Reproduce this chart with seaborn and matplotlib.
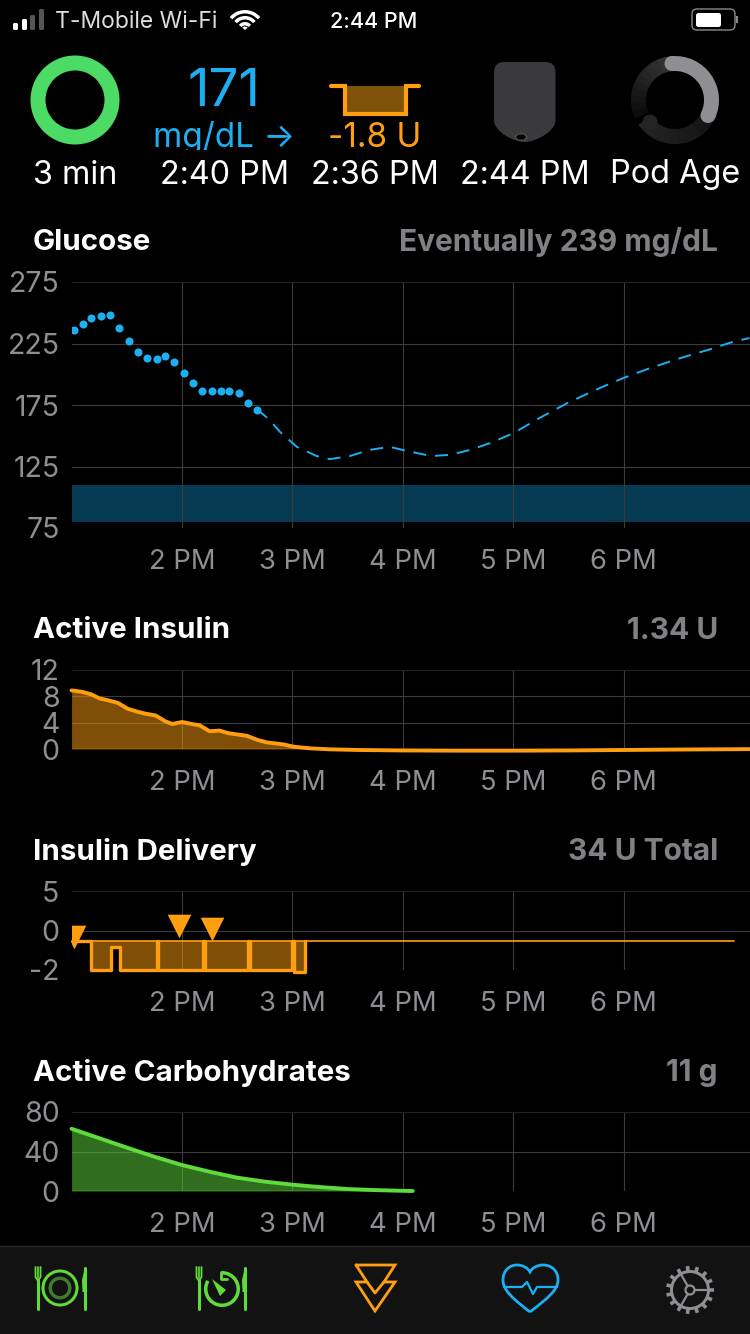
import numpy as np
import pandas as pd
import matplotlib
matplotlib.use('Agg')
import matplotlib.pyplot as plt
from matplotlib.patches import Circle, Wedge, Rectangle, FancyBboxPatch, PathPatch, Polygon
from matplotlib.path import Path
import seaborn as sns

# glucose readings (hour of day, mg/dL)
glucose_hours = [13.02, 13.10, 13.18, 13.27, 13.35, 13.43, 13.52, 13.60, 13.68, 13.77, 13.85,
                 13.93, 14.02, 14.10, 14.18, 14.27, 14.35, 14.43, 14.52, 14.60, 14.68]
glucose_values = [236, 241, 246, 247, 248, 238, 227, 218, 213, 212, 215,
                  210, 201, 193, 186, 186, 186, 186, 185, 177, 171]
forecast_hours = [14.68, 14.78, 14.89, 15.04, 15.22, 15.34, 15.52, 15.70, 15.88, 16.07, 16.26, 16.43,
                  16.61, 16.79, 17.00, 17.24, 17.51, 17.79, 18.00, 18.24, 18.51, 18.79, 18.96, 19.14]
forecast_values = [171.5, 164, 153, 141, 133.5, 131, 133.5, 138.5, 141, 137, 133.5, 134.5,
                   138.5, 144, 152, 164.5, 177.5, 189, 197, 205, 213, 220.5, 225.5, 229.5]
target_low = 80
target_high = 110

iob_hours = [13.0, 13.09, 13.18, 13.25, 13.33, 13.42, 13.51, 13.59, 13.66, 13.76, 13.85, 13.91, 14.0,
             14.09, 14.16, 14.25, 14.34, 14.42, 14.59, 14.68, 14.77, 14.92, 15.01, 15.16, 15.34,
             15.6, 16.0, 16.5, 17.0, 17.5, 18.0, 18.5, 19.14]
iob_values = [8.9, 8.7, 8.3, 7.7, 7.4, 7.0, 6.1, 5.7, 5.4, 5.1, 4.2, 3.8, 4.1,
              3.8, 3.6, 2.7, 2.8, 2.4, 2.0, 1.4, 1.0, 0.7, 0.35, 0.1, -0.05,
              -0.15, -0.22, -0.25, -0.25, -0.22, -0.15, -0.08, -0.02]

# delivery is in axis units: the reference ticks are evenly spaced but labelled 5, 0, -2
basal_level = -1.33
delivery_hours = [13.0, 13.18, 13.36, 13.44, 13.77, 13.785, 14.19, 14.205, 14.60, 14.615, 15.0, 15.015, 15.11, 19.0]
delivery_values = [-1.33, -5, -2.05, -5, -1.33, -5, -1.33, -5, -1.33, -5, -1.33, -5.3, -1.33, -1.33]
bolus_hours = [13.02, 13.97, 14.27]
bolus_values = [-0.82, 0.63, 0.19]

carb_hours = [13.0, 13.25, 13.5, 13.75, 14.0, 14.25, 14.5, 14.75, 15.0, 15.25, 15.5, 15.75, 16.0, 16.09]
carb_values = [63, 53.5, 44, 34.7, 26.3, 19.5, 13.5, 9.5, 6.4, 4, 2, 0.9, 0.2, 0]

hour_ticks = [14, 15, 16, 17, 18]
hour_labels = ['2 PM', '3 PM', '4 PM', '5 PM', '6 PM']

BLUE = '#1cb0f2'
ORANGE = '#ff9f0f'
BROWN = '#7f5209'
GREEN = '#5fdc3c'
GRAY = '#8e8e93'
TITLEGRAY = '#808085'
GRID = '#3c3c3e'
EDGEGRID = '#232325'

sns.set_theme(style='dark', rc={'figure.facecolor': 'black', 'axes.facecolor': 'black',
                                'savefig.facecolor': 'black', 'axes.grid': True})
plt.rcParams['font.family'] = ['Inter', 'DejaVu Sans']

W, H = 750, 1334
fig = plt.figure(figsize=(7.5, 13.34), dpi=100)


def chart_axes(top, bottom, ylim, yticks, ylabels):
    ax = fig.add_axes([72 / W, 1 - bottom / H, (W - 72) / W, (bottom - top) / H])
    ax.set_xlim(13.004, 19.145)
    ax.set_ylim(*ylim)
    ax.set_xticks(hour_ticks, hour_labels)
    ax.set_yticks(yticks, ylabels)
    ax.grid(True, color=GRID, lw=0.8)
    ax.get_ygridlines()[0].set_color(EDGEGRID)
    ax.get_ygridlines()[-1].set_color(EDGEGRID)
    ax.tick_params(axis='x', colors=GRAY, labelsize=19.7, pad=15, length=0)
    ax.tick_params(axis='y', colors=GRAY, labelsize=20.5, pad=9, length=0)
    for s in ax.spines.values():
        s.set_visible(False)
    ax.set_axisbelow(True)
    return ax


# glucose
ax1 = chart_axes(282, 528, (75, 275), [75, 125, 175, 225, 275], ['75', '125', '175', '225', '275'])
ax1.axhspan(target_low, target_high, color='#063a52', lw=0, zorder=0.4)
sns.lineplot(x=forecast_hours, y=forecast_values, ax=ax1, color=BLUE, lw=1.4, linestyle=(0, (6.7, 4.6)))
sns.scatterplot(x=glucose_hours, y=glucose_values, ax=ax1, color=BLUE, s=34, linewidth=0, zorder=3)

# active insulin
ax2 = chart_axes(670, 749, (0, 12), [0, 4, 8, 12], ['0', '4', '8', '12'])
iob = pd.DataFrame({'hour': iob_hours, 'units': iob_values})
ax2.fill_between(iob['hour'], iob['units'], 0, color=ORANGE, alpha=0.5, lw=0, zorder=1.5)
sns.lineplot(x=[13.0, 15.0], y=[0, 0], ax=ax2, color=ORANGE, lw=1)
line = sns.lineplot(data=iob, x='hour', y='units', ax=ax2, color=ORANGE, lw=2.8, estimator=None)
line.lines[-1].set_clip_on(False)
ax2.set_xlabel('')
ax2.set_ylabel('')

# insulin delivery
ax3 = chart_axes(891, 970, (-5, 5), [-5, 0, 5], ['-2', '0', '5'])
ax3.fill_between(delivery_hours, delivery_values, basal_level, step='post', color=ORANGE, alpha=0.5, lw=0, zorder=1.5)
sns.lineplot(x=[13.0, 19.0], y=[basal_level, basal_level], ax=ax3, color=ORANGE, lw=1.2)
path = sns.lineplot(x=delivery_hours[:-1], y=delivery_values[:-1], ax=ax3, color=ORANGE, lw=2.4,
                    drawstyle='steps-post', estimator=None, sort=False)
path.lines[-1].set_clip_on(False)
sns.scatterplot(x=bolus_hours, y=bolus_values, ax=ax3, color=ORANGE, marker='v', s=290, linewidth=0, zorder=4)

# active carbs
ax4 = chart_axes(1112, 1191, (0, 80), [0, 40, 80], ['0', '40', '80'])
ax4.fill_between(carb_hours, carb_values, 0, color=GREEN, alpha=0.5, lw=0, zorder=1.5)
sns.lineplot(x=[13.0, 16.09], y=[0, 0], ax=ax4, color=GREEN, lw=1)
line = sns.lineplot(x=carb_hours, y=carb_values, ax=ax4, color=GREEN, lw=2.8)
line.lines[-1].set_clip_on(False)

# overlay in pixel coords for the app chrome
ov = fig.add_axes([0, 0, 1, 1], facecolor='none')
ov.set_xlim(0, W)
ov.set_ylim(H, 0)
ov.axis('off')
ov.grid(False)


def label(x, y, s, color='white', size=23.3, ha='center', weight='normal'):
    return ov.text(x, y + 2, s, color=color, fontsize=size, ha=ha, va='center', fontweight=weight)


for title, right, y in [('Glucose', 'Eventually 239 mg/dL', 240), ('Active Insulin', '1.34 U', 629),
                        ('Insulin Delivery', '34 U Total', 850), ('Active Carbohydrates', '11 g', 1071)]:
    label(33, y, title, size=21.3, ha='left', weight='bold')
    label(718, y, right, color=TITLEGRAY, size=21.5, ha='right', weight='bold')

# status bar
for x0, top, c in [(13, 23, 'white'), (22, 19, 'white'), (30, 15, '#555555'), (39, 9, '#555555')]:
    ov.add_patch(FancyBboxPatch((x0, top), 5, 30 - top, boxstyle='round,pad=0,rounding_size=1.5', fc=c, ec='none'))
label(55, 20, 'T-Mobile Wi-Fi', color='#dddddd', size=16.5, ha='left')
label(374, 20, '2:44 PM', size=15.5, weight='medium')
for r, lw in [(20, 3.5), (14, 3.5), (8, 3.5)]:
    ov.add_patch(Wedge((245, 30), r, 220, 320, width=lw, fc='white', ec='none'))
ov.add_patch(Wedge((245, 30), 3.5, 220, 320, fc='white', ec='none'))
ov.add_patch(FancyBboxPatch((692, 9), 43, 21, boxstyle='round,pad=0,rounding_size=5', fc='none', ec='#8a8a8a', lw=1))
ov.add_patch(FancyBboxPatch((696, 13), 25, 14, boxstyle='round,pad=0,rounding_size=2.5', fc='white', ec='none'))
ov.add_patch(Rectangle((736, 16), 2, 7, fc='#8a8a8a', ec='none'))

# header row
ov.add_patch(Wedge((75, 100), 44.5, 0, 360, width=15, fc='#4cdb64', ec='none'))
label(75, 173, '3 min')
label(224, 90, '171', color=BLUE, size=38)
label(224, 136, 'mg/dL →', color=BLUE, size=24)
ov.add_patch(Rectangle((150, 149.5), 150, 7, fc='black', ec='none', zorder=5))
label(225, 173, '2:40 PM')

ov.add_patch(Rectangle((345, 86), 61, 28, fc=BROWN, ec='none'))
ov.plot([331, 345, 345, 406, 406, 419], [86, 86, 114, 114, 86, 86], color=ORANGE, lw=3, solid_joinstyle='miter')
label(375, 136, '-1.8 U', color=ORANGE, size=24)
label(375, 173, '2:36 PM')

pod = Path([(494, 72), (494, 62), (504, 62), (545, 62), (555.5, 62), (555.5, 72), (555.5, 120), (555.5, 132),
            (535, 142), (525, 142), (514, 142), (494, 132), (494, 120), (494, 72)],
           [Path.MOVETO, Path.CURVE3, Path.CURVE3, Path.LINETO, Path.CURVE3, Path.CURVE3, Path.LINETO, Path.CURVE4,
            Path.CURVE4, Path.CURVE4, Path.CURVE4, Path.CURVE4, Path.CURVE4, Path.LINETO])
ov.add_patch(PathPatch(pod, fc='#3a3a3c', ec='none'))
ov.add_patch(Polygon([(515, 137), (518, 134), (524, 134), (527, 137), (524, 140), (518, 140)], fc='black', ec='#666666', lw=0.6))
label(525, 173, '2:44 PM')

# pod age ring, dark part fades around (y axis is flipped, so angles run clockwise on screen)
for a, c in zip(range(255, 145, -10), np.linspace(0.21, 0.05, 11)):
    ov.add_patch(Wedge((675, 100), 44, a, a + 11, width=15, fc=str(c), ec='none'))
for a, c in zip(range(135, 15, -10), np.linspace(0.14, 0.08, 12)):
    ov.add_patch(Wedge((675, 100), 44, a, a + 11, width=15, fc=str(c), ec='none'))
ov.add_patch(Circle((650, 122), 7.5, fc='0.14', ec='none'))
ov.add_patch(Wedge((675, 100), 44, -95, 25, width=15, fc=GRAY, ec='none'))
ov.add_patch(Circle((672, 63.5), 7.5, fc=GRAY, ec='none'))
ov.add_patch(Circle((708, 115.5), 7.5, fc=GRAY, ec='none'))
label(675, 173, 'Pod Age')

# tab bar
ov.add_patch(Rectangle((0, 1246), W, 88, fc='#121212', ec='none'))
ov.plot([0, W], [1245.5, 1245.5], color='#2a2a2a', lw=1)


def cutlery(xf, xk):
    ov.plot([xf, xf], [1280, 1309], color=GREEN, lw=2.2)
    ov.plot([xf - 2.5, xf - 2.5, xf, xf + 2.5, xf + 2.5], [1267, 1277, 1281, 1277, 1267], color=GREEN, lw=1.3)
    ov.plot([xf, xf], [1267, 1278], color=GREEN, lw=1.2)
    ov.add_patch(Polygon([(xk, 1267), (xk - 3, 1280), (xk - 2.5, 1292), (xk, 1292)], fc=GREEN, ec='none'))
    ov.plot([xk - 0.5, xk - 0.5], [1268, 1309], color=GREEN, lw=2.2)


cutlery(38, 85)
ov.add_patch(Wedge((60, 1288), 18.5, 0, 360, width=3, fc=GREEN, ec='none'))
ov.add_patch(Wedge((60, 1288), 11.5, 0, 360, width=3.5, fc='#3f7a2f', ec='none'))
cutlery(199, 245)
ov.add_patch(Wedge((222, 1289), 18, -90, 210, width=3.5, fc=GREEN, ec='none'))
ov.add_patch(Polygon([(212, 1279), (226, 1290), (220, 1296)], fc=GREEN, ec='none'))
ov.plot([221, 221, 227], [1272, 1279, 1279], color=GREEN, lw=2)

ov.plot([356, 395, 384, 395, 375, 356, 367, 356], [1265, 1265, 1282, 1282, 1311, 1282, 1282, 1265],
        color=ORANGE, lw=2, solid_joinstyle='miter')
ov.plot([367, 375, 384], [1282, 1293, 1282], color=ORANGE, lw=2)

heart = Path([(530, 1312), (512, 1298), (503, 1290), (503, 1280), (503, 1270), (510, 1265), (517, 1265),
              (523, 1265), (528, 1268), (530, 1272), (532, 1268), (537, 1265), (543, 1265),
              (551, 1265), (558, 1270), (558, 1280), (558, 1290), (548, 1298), (530, 1312)],
             [Path.MOVETO] + [Path.CURVE4] * 18)
ov.add_patch(PathPatch(heart, fc='none', ec=BLUE, lw=2))
ov.plot([504, 522, 527, 533, 537, 557], [1287, 1287, 1282, 1294, 1287, 1287], color=BLUE, lw=1.6)

ov.add_patch(Wedge((690, 1290), 20, 0, 360, width=3, fc=GRAY, ec='none'))
ov.add_patch(Circle((690, 1290), 4.5, fc='none', ec=GRAY, lw=1.6))
for a in [120, 0, 240]:
    rad = np.deg2rad(a)
    ov.plot([690 + 4.5 * np.cos(rad), 690 + 19 * np.cos(rad)], [1290 - 4.5 * np.sin(rad), 1290 - 19 * np.sin(rad)],
            color=GRAY, lw=1.6)
for a in range(0, 360, 24):
    rad = np.deg2rad(a)
    ov.plot([690 + 19 * np.cos(rad), 690 + 24 * np.cos(rad)], [1290 + 19 * np.sin(rad), 1290 + 24 * np.sin(rad)],
            color=GRAY, lw=2.6, solid_capstyle='butt')

fig.savefig('out.png', dpi=100)
